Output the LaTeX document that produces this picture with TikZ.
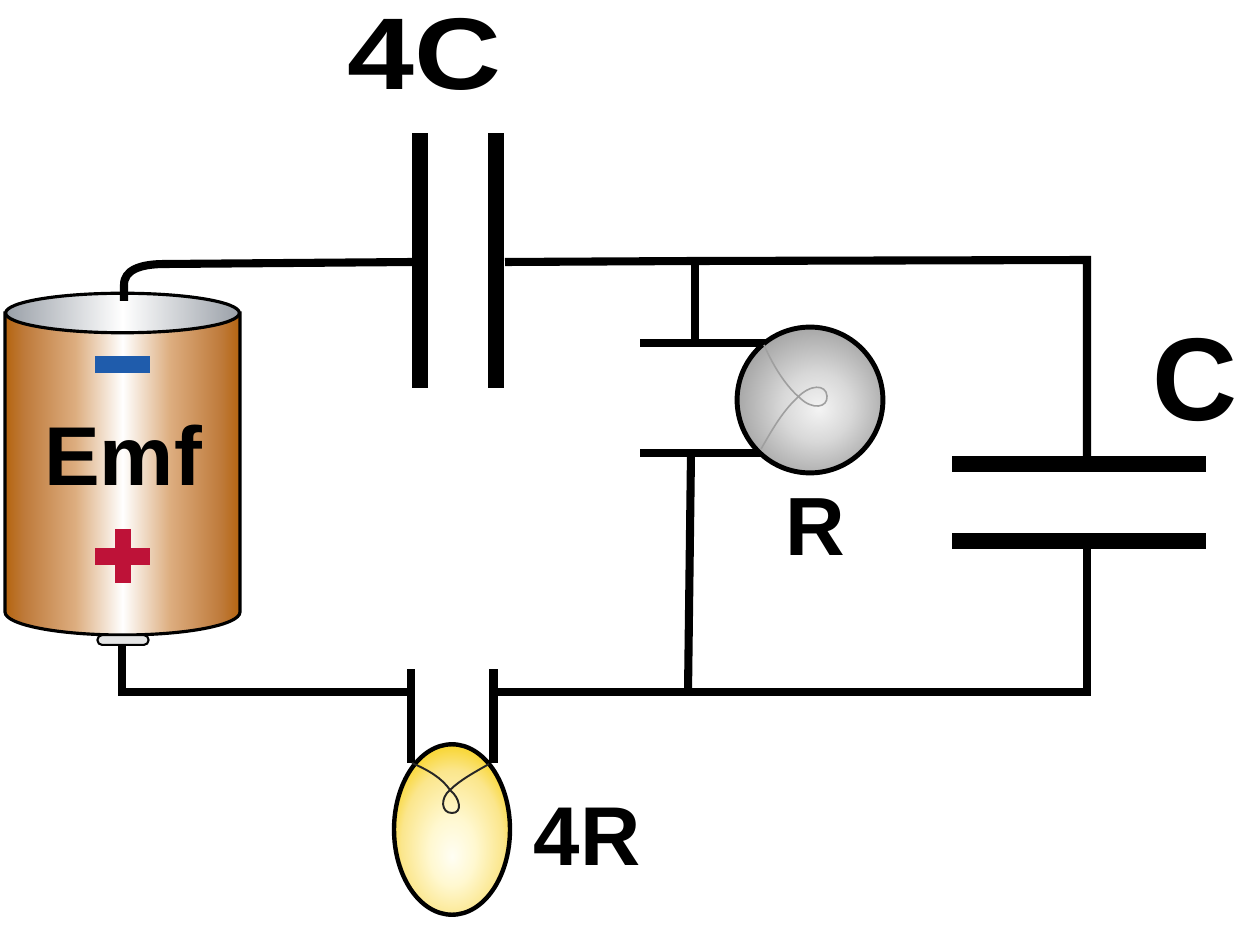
\documentclass[tikz,border=0pt]{standalone}
\usepackage{fontspec}
\setmainfont{Liberation Sans}
\usetikzlibrary{positioning,shapes.geometric}
\definecolor{minusblue}{HTML}{1F5CAC}
\definecolor{plusred}{HTML}{BE1238}
\definecolor{copperA}{HTML}{B5640F}
\definecolor{copperB}{HTML}{BE7A3A}
\definecolor{copperC}{HTML}{DDAE80}
\definecolor{rimA}{HTML}{9AA0A8}
\definecolor{yelA}{HTML}{FFFEF4}
\definecolor{yelB}{HTML}{FFF8D0}
\definecolor{yelC}{HTML}{FBE68C}
\definecolor{yelD}{HTML}{F8CE08}
\definecolor{grayA}{HTML}{F4F4F4}
\definecolor{grayB}{HTML}{D8D8D8}
\definecolor{grayC}{HTML}{9E9E9E}
\pgfdeclarehorizontalshading{copper}{100bp}{
  color(0bp)=(copperA); color(25bp)=(copperA);
  color(29bp)=(copperB); color(40bp)=(copperC); color(50bp)=(white);
  color(60bp)=(copperC); color(71bp)=(copperB); color(75bp)=(copperA);
  color(100bp)=(copperA)}
\pgfdeclarehorizontalshading{rimgray}{100bp}{
  color(0bp)=(rimA); color(25bp)=(rimA); color(50bp)=(white);
  color(75bp)=(rimA); color(100bp)=(rimA)}
\pgfdeclareradialshading{graybulb}{\pgfpoint{3bp}{-3bp}}{
  color(0bp)=(grayA); color(12bp)=(grayB);
  color(29bp)=(grayC); color(50bp)=(grayC)}
\pgfdeclareradialshading{yellowbulb}{\pgfpoint{0bp}{-8bp}}{
  color(0bp)=(yelA); color(10bp)=(yelB); color(22bp)=(yelC);
  color(31bp)=(yelD); color(50bp)=(yelD)}
\begin{document}
\begin{tikzpicture}[x=0.02cm,y=-0.02cm,
    wire/.style={draw=black,line width=4.6pt,line join=miter},
    plate/.style={fill=black,inner sep=0pt,outer sep=0pt,rectangle},
    tallplate/.style={plate,minimum width=9pt,minimum height=145pt},
    flatplate/.style={plate,minimum width=145pt,minimum height=9pt},
    leadplate/.style={plate,minimum width=4.6pt,minimum height=53pt},
    filament/.style={line width=0.9pt},
    lbl/.style={anchor=base,inner sep=0pt,font=\bfseries\fontsize{#1}{#1}\selectfont}]
   \useasboundingbox (0,0) rectangle (1237,925);
   % battery
   \path[shading=copper,draw=black,line width=1.8pt]
     (5,313) -- (5,612) arc[start angle=180,end angle=0,x radius=117.5,y radius=23]
     -- (240,313) -- cycle;
   \node (emftop) [ellipse,shading=rimgray,draw=black,line width=1.8pt,inner sep=0pt,
     minimum width=133pt,minimum height=22.5pt] at (122.5,313) {};
   \node (nub) [rectangle,rounded corners=2.5pt,draw=black,line width=1.2pt,fill=gray!20,
     inner sep=0pt,minimum width=29pt,minimum height=5.5pt] at (123,640) {};
   \fill[minusblue] (95,356) rectangle (150,373);
   \fill[plusred] (95,548) rectangle (150,565);
   \fill[plusred] (115,529) rectangle (131,583);
   \node (emf) [lbl=47.5] at (123,485) {Emf};
   % capacitors
   \node (plateL) [tallplate] at (420,260.5) {};
   \node (plateR) [tallplate] at (496,260.5) {};
   \node (plateT) [flatplate] at (1079,464) {};
   \node (plateB) [flatplate] at (1079,541) {};
   \node (cfour) [lbl=58] at (424,90) {\scalebox{1.18}[1]{4C}};
   \node (cone) [lbl=67] at (1195,421) {C};
   % named corners of the circuit
   \coordinate (start) at (124,301);
   \coordinate (bend) at (165,264);
   \coordinate (topL) at (413,262);
   \coordinate (topR) at (505,262);
   \coordinate (tapT) at (695,261);
   \coordinate (cornerT) at (1087,260);
   \coordinate (cornerB) at (1087,692);
   \coordinate (tapB) at (688,692);
   \coordinate (botR) at (498,692);
   \coordinate (botL) at (407,692);
   \coordinate (cornerL) at (122,692);
   \coordinate (leadT) at (640,343);
   \coordinate (leadB) at (640,453);
   \coordinate (tapM) at (695,343);
   \coordinate (tapN) at (691,453);
   % wires
   \draw[wire] (start) -- (124,285) .. controls (124,270) and (140,264) .. (bend) -- (topL);
   \draw[wire] (topR) -- (tapT) -- (cornerT) -- (cornerT |- plateT);
   \draw[wire] (cornerB |- plateB) -- (cornerB) -- (tapB) -- (botR);
   \draw[wire] (botL) -- (cornerL) -- (nub.south -| cornerL);
   \draw[wire] (tapT) -- (tapM);
   \draw[wire] (tapN) -- (tapB);
   % lamp R
   \draw[wire] (leadT) -- (768,343);
   \draw[wire] (leadB) -- (762,453);
   \node (lampR) [circle,shading=graybulb,draw=black,line width=2.8pt,inner sep=0pt,
     minimum size=83pt] at (810,400) {};
   \draw[filament,draw=gray!75] (764,345) .. controls (775,370) and (788,388) .. (800,398)
     .. controls (812,410) and (828,408) .. (827,396)
     .. controls (826,384) and (810,384) .. (797,398)
     .. controls (782,412) and (772,430) .. (761,449);
   \node (labelR) [lbl=47] at (815,555) {R};
   % lamp 4R
   \node (leadL) [leadplate] at (411,716) {};
   \node (leadR) [leadplate] at (493.5,716) {};
   \node (lampF) [ellipse,shading=yellowbulb,draw=black,line width=2.5pt,inner sep=0pt,
     minimum width=66pt,minimum height=97pt] at (452,829.5) {};
   \draw[filament,draw=black!85,line width=1.1pt] (412,763) .. controls (428,770) and (442,778) .. (450,790)
     .. controls (460,798) and (463,813) .. (452,813)
     .. controls (441,813) and (440,798) .. (450,790)
     .. controls (460,780) and (475,772) .. (489,764);
   \node (labelF) [lbl=47.5] at (587,865) {4R};
\end{tikzpicture}
\end{document}
